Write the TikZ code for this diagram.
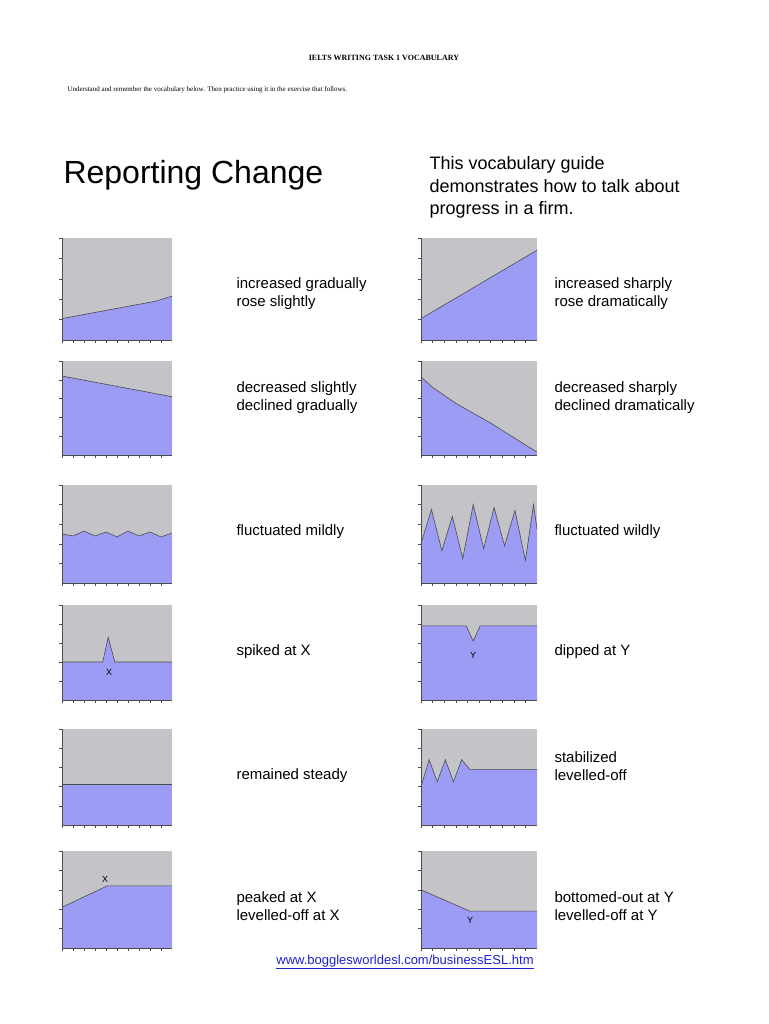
\documentclass[tikz,border=0pt]{standalone}
\usepackage{fontspec}
\setmainfont{Liberation Serif}
\setsansfont{Liberation Sans}
\definecolor{gbg}{HTML}{C3C3C8}
\definecolor{bfill}{HTML}{9C9CF4}
\definecolor{lk}{HTML}{2020D0}
\tikzset{lbl/.style={font=\sffamily\fontsize{15}{18}\selectfont,anchor=west,align=left},
 mk/.style={font=\sffamily\fontsize{9}{10}\selectfont}}
% \chart{x0}{ybottom}{w}{h}{points}
\newcommand{\mychart}[5]{%
\begin{scope}[shift={(#1,#2)},x=#3pt,y=#4pt]
\fill[gbg] (0,0) rectangle (1,1);
\fill[bfill] (0,0) -- #5 -- (1,0) -- cycle;
\draw[black!70,line width=0.6pt] #5;
\draw[black!70,line width=0.5pt] (0,1) -- (0,0) -- (1,0);
\foreach \i in {0.2,0.4,...,1.0} \draw[black!70,line width=0.4pt] (-0.025,\i) -- (0,\i);
\foreach \i in {0,0.1,...,1.0} \draw[black!70,line width=0.4pt] (\i,0) -- (\i,-0.03);
\end{scope}}
\begin{document}
\begin{tikzpicture}[x=1pt,y=-1pt]
\useasboundingbox[fill=white] (0,0) rectangle (768,1024);
\node (h) at (384,58) {\fontsize{8}{9}\selectfont\bfseries IELTS WRITING TASK 1 VOCABULARY};
\node[anchor=west] (ins) at (64,90) {\fontsize{7}{8}\selectfont Understand and remember the vocabulary below. Then practice using it in the exercise that follows.};
\node[anchor=west,font=\sffamily\fontsize{32}{34}\selectfont] (t) at (60,175) {Reporting Change};
\node[anchor=north west,align=left,font=\sffamily\fontsize{18}{22.5}\selectfont] (d) at (426,153) {This vocabulary guide\\demonstrates how to talk about\\progress in a firm.};
% row 1
\mychart{62}{340}{110}{102}{(0,.21) -- (.3,.27) -- (.6,.33) -- (.85,.38) -- (1,.43)}
\mychart{421}{340}{116}{102}{(0,.21) -- (1,.88)}
\node[lbl] (l1) at (233,294) {increased gradually\\rose slightly};
\node[lbl] (r1) at (551,294) {increased sharply\\rose dramatically};
% row 2
\mychart{62}{455}{110}{94}{(0,.84) -- (.5,.73) -- (1,.62)}
\mychart{421}{455}{116}{94}{(0,.83) -- (.1,.72) -- (.3,.55) -- (.6,.34) -- (1,.03)}
\node[lbl] (l2) at (233,398) {decreased slightly\\declined gradually};
\node[lbl] (r2) at (551,398) {decreased sharply\\declined dramatically};
% row 3
\mychart{62}{583}{110}{98}{(0,.5) -- (.1,.48) -- (.2,.53) -- (.3,.48) -- (.4,.52) -- (.5,.47) -- (.6,.53) -- (.7,.48) -- (.8,.52) -- (.9,.47) -- (1,.51)}
\mychart{421}{583}{116}{98}{(0,.4) -- (.09,.75) -- (.18,.33) -- (.27,.68) -- (.36,.25) -- (.45,.8) -- (.54,.35) -- (.63,.77) -- (.72,.38) -- (.81,.74) -- (.9,.23) -- (.97,.8) -- (1,.55)}
\node[lbl] (l3) at (233,532) {fluctuated mildly};
\node[lbl] (r3) at (551,532) {fluctuated wildly};
% row 4
\mychart{62}{700}{110}{95}{(0,.4) -- (.37,.4) -- (.42,.66) -- (.48,.4) -- (1,.4)}
\mychart{421}{700}{116}{95}{(0,.78) -- (.39,.78) -- (.45,.62) -- (.51,.78) -- (1,.78)}
\node[mk] (xa) at (109,672) {X};
\node[mk] (ya) at (473,655) {Y};
\node[lbl] (l4) at (233,652) {spiked at X};
\node[lbl] (r4) at (551,652) {dipped at Y};
% row 5
\mychart{62}{825}{110}{96}{(0,.42) -- (1,.42)}
\mychart{421}{825}{116}{96}{(0,.4) -- (.07,.68) -- (.14,.45) -- (.21,.68) -- (.28,.45) -- (.35,.68) -- (.42,.58) -- (1,.58)}
\node[lbl] (l5) at (233,776) {remained steady};
\node[lbl] (r5) at (551,766) {stabilized\\levelled-off};
% row 6
\mychart{62}{948}{110}{97}{(0,.42) -- (.41,.64) -- (1,.64)}
\mychart{421}{948}{116}{97}{(0,.6) -- (.42,.38) -- (1,.38)}
\node[mk] (xb) at (105,879) {X};
\node[mk] (yb) at (470,920) {Y};
\node[lbl] (l6) at (233,906) {peaked at X\\levelled-off at X};
\node[lbl] (r6) at (551,906) {bottomed-out at Y\\levelled-off at Y};
\node[font=\sffamily\fontsize{13}{15}\selectfont,text=lk] (url) at (405,962) {\underline{www.bogglesworldesl.com/businessESL.htm}};
\end{tikzpicture}
\end{document}
